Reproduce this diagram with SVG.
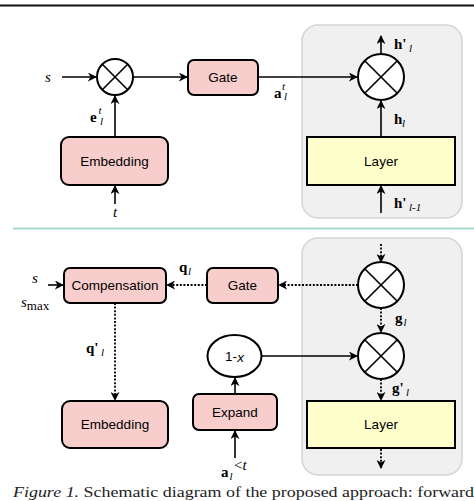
<svg xmlns="http://www.w3.org/2000/svg" width="474" height="501" viewBox="0 0 474 501">
<style>
.box{fill:#f8cecc;stroke:#000;stroke-width:2}
.layer{fill:#ffffcc;stroke:#000;stroke-width:2}
.panel{fill:#f0f0f0;stroke:#d4d4d4;stroke-width:1.5}
.op{fill:#fff;stroke:#000;stroke-width:2}
.ln{fill:none;stroke:#000;stroke-width:1.6}
.dot{fill:none;stroke:#000;stroke-width:1.8;stroke-dasharray:2 1.6}
.lbl{font-family:"Liberation Sans",Arial,sans-serif;font-size:13.5px;fill:#000;text-anchor:middle;dominant-baseline:central}
.m{font-family:"Liberation Serif","Times New Roman",serif;font-size:15px;fill:#000}
.b{font-weight:bold}
.i{font-style:italic}
.sub{font-size:11px;font-style:italic}
</style>
<defs>
<marker id="ah" viewBox="0 0 10 10" refX="9" refY="5" markerWidth="9" markerHeight="9" markerUnits="userSpaceOnUse" orient="auto">
<path d="M0,0 L10,5 L0,10 L3,5 z" fill="#000"/>
</marker>
</defs>
<rect width="474" height="501" fill="#fff"/>
<line x1="0" y1="5.5" x2="474" y2="5.5" stroke="#111" stroke-width="2"/>
<line x1="13" y1="228.5" x2="474" y2="228.5" stroke="#a8d8cc" stroke-width="2"/>

<g id="panel-top"><rect class="panel" x="302" y="25" width="160" height="193" rx="16"/></g>
<g id="panel-bottom"><rect class="panel" x="302" y="238" width="160" height="237" rx="16"/></g>

<g id="connectors">
<line class="ln" x1="62" y1="77" x2="96" y2="77" marker-end="url(#ah)"/>
<line class="ln" x1="115" y1="137" x2="115" y2="96" marker-end="url(#ah)"/>
<line class="ln" x1="115" y1="204" x2="115" y2="186" marker-end="url(#ah)"/>
<line class="ln" x1="133" y1="77" x2="187" y2="77" marker-end="url(#ah)"/>
<line class="ln" x1="259" y1="77" x2="357" y2="77" marker-end="url(#ah)"/>
<line class="ln" x1="381" y1="137" x2="381" y2="101" marker-end="url(#ah)"/>
<line class="ln" x1="381" y1="54" x2="381" y2="36" marker-end="url(#ah)"/>
<line class="ln" x1="381" y1="213" x2="381" y2="186" marker-end="url(#ah)"/>

<line class="ln" x1="48" y1="285" x2="63" y2="285" marker-end="url(#ah)"/>
<line class="dot" x1="381" y1="244" x2="381" y2="262" marker-end="url(#ah)"/>
<line class="dot" x1="358" y1="285" x2="279" y2="285" marker-end="url(#ah)"/>
<line class="dot" x1="207" y1="285" x2="167" y2="285" marker-end="url(#ah)"/>
<line class="dot" x1="115" y1="303" x2="115" y2="400" marker-end="url(#ah)"/>
<line class="dot" x1="381" y1="308" x2="381" y2="332" marker-end="url(#ah)"/>
<line class="ln" x1="262" y1="356" x2="357" y2="356" marker-end="url(#ah)"/>
<line class="ln" x1="235" y1="394" x2="235" y2="378" marker-end="url(#ah)"/>
<line class="ln" x1="235" y1="458" x2="235" y2="431" marker-end="url(#ah)"/>
<line class="dot" x1="381" y1="379" x2="381" y2="400" marker-end="url(#ah)"/>
<line class="dot" x1="381" y1="449" x2="381" y2="468" marker-end="url(#ah)"/>
</g>

<g id="mul1"><circle class="op" cx="115" cy="77" r="18"/><path class="ln" stroke-width="2" d="M102.3,64.3 L127.7,89.7 M127.7,64.3 L102.3,89.7"/></g>
<g id="gate1"><rect class="box" x="188" y="60" width="70" height="35" rx="6"/><text class="lbl" x="223" y="77.5">Gate</text></g>
<g id="mul2"><circle class="op" cx="381" cy="77" r="23"/><path class="ln" stroke-width="2" d="M364.7,60.7 L397.3,93.3 M397.3,60.7 L364.7,93.3"/></g>
<g id="embed1"><rect class="box" x="61" y="137" width="107" height="48" rx="8"/><text class="lbl" x="114.5" y="161">Embedding</text></g>
<g id="layer1"><rect class="layer" x="307" y="137" width="148" height="48"/><text class="lbl" x="381" y="161">Layer</text></g>

<g id="comp"><rect class="box" x="64" y="268" width="102" height="35" rx="6"/><text class="lbl" x="115" y="285.5">Compensation</text></g>
<g id="gate2"><rect class="box" x="207" y="268" width="71" height="35" rx="6"/><text class="lbl" x="242.5" y="285.5">Gate</text></g>
<g id="mul3"><circle class="op" cx="381" cy="285" r="23"/><path class="ln" stroke-width="2" d="M364.7,268.7 L397.3,301.3 M397.3,268.7 L364.7,301.3"/></g>
<g id="onex"><ellipse class="op" cx="234.5" cy="356" rx="27" ry="21"/><text class="lbl" x="234.5" y="356.5">1-<tspan font-style="italic">x</tspan></text></g>
<g id="mul4"><circle class="op" cx="381" cy="356" r="23"/><path class="ln" stroke-width="2" d="M364.7,339.7 L397.3,372.3 M397.3,339.7 L364.7,372.3"/></g>
<g id="expand"><rect class="box" x="193" y="394" width="84" height="36" rx="6"/><text class="lbl" x="235" y="412.5">Expand</text></g>
<g id="embed2"><rect class="box" x="62" y="401" width="106" height="47" rx="8"/><text class="lbl" x="115" y="424.5">Embedding</text></g>
<g id="layer2"><rect class="layer" x="307" y="401" width="148" height="47"/><text class="lbl" x="381" y="424.5">Layer</text></g>

<g id="labels">
<text class="m i" x="45" y="82" font-size="16">s</text>
<text class="m i" x="115" y="217" font-size="16" text-anchor="middle">t</text>
<text class="m b" x="90" y="122">e</text><text class="m sub" x="98.5" y="114">t</text><text class="m sub" x="100" y="125">l</text>
<text class="m b" x="274" y="98">a</text><text class="m sub" x="282" y="90">t</text><text class="m sub" x="284" y="100">l</text>
<text class="m b" x="394" y="49">h'</text><text class="m sub" x="409" y="52">l</text>
<text class="m b" x="394" y="124">h</text><text class="m sub" x="402" y="127">l</text>
<text class="m b" x="394" y="208">h'</text><text class="m sub" x="409" y="211">l-1</text>

<text class="m i" x="32" y="283" font-size="16">s</text>
<text class="m" x="21" y="307" font-size="16"><tspan class="i">s</tspan><tspan dy="3" font-size="13">max</tspan></text>
<text class="m b" x="179" y="272">q</text><text class="m sub" x="188" y="275">l</text>
<text class="m b" x="86" y="353">q'</text><text class="m sub" x="101" y="356">l</text>
<text class="m b" x="395" y="323">g</text><text class="m sub" x="403.5" y="326">l</text>
<text class="m b" x="392" y="393">g'</text><text class="m sub" x="406" y="396">l</text>
<text class="m b" x="221" y="477">a</text><text class="m sub" x="229.5" y="480">l</text><text class="m" x="234" y="470" font-size="10.5">&lt;<tspan class="i">t</tspan></text>
</g>

<text x="13" y="497" font-family="Liberation Serif,'Times New Roman',serif" font-size="15.5" fill="#222" textLength="461" lengthAdjust="spacingAndGlyphs"><tspan font-style="italic">Figure 1.</tspan> Schematic diagram of the proposed approach: forward</text>
</svg>
